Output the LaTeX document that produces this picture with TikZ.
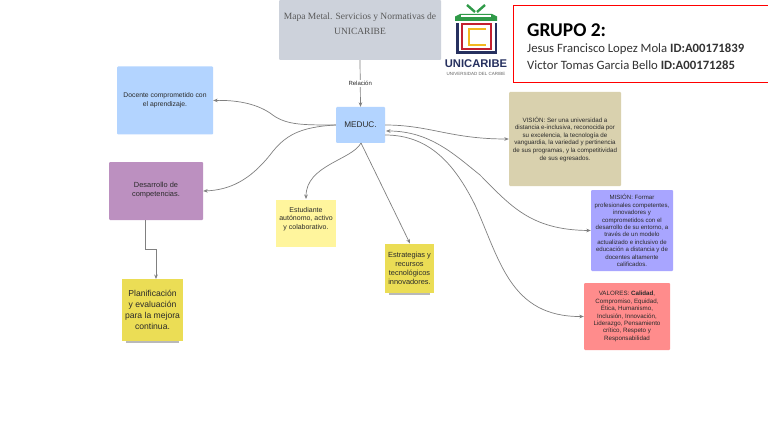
\documentclass[tikz,border=0pt]{standalone}
\usepackage{fontspec}
\setmainfont{Liberation Sans}
\newfontfamily\serifttl{Liberation Serif}
\newfontfamily\carl{Carlito}
\usetikzlibrary{arrows.meta}
\definecolor{cblue}{HTML}{B3D4FF}
\definecolor{ctitle}{HTML}{CDD2DB}
\definecolor{cpurple}{HTML}{BC90C0}
\definecolor{cpaleY}{HTML}{FFF59D}
\definecolor{cmust}{HTML}{EBDD55}
\definecolor{ctan}{HTML}{D9D1AE}
\definecolor{cviolet}{HTML}{A8A5FF}
\definecolor{cred}{HTML}{FF8C8C}
\definecolor{cnavy}{HTML}{26305F}
\definecolor{clogor}{HTML}{C3202F}
\definecolor{clogog}{HTML}{2F9A48}
\definecolor{clogoy}{HTML}{F2B81F}
\definecolor{ctxt}{HTML}{2A2A2A}
\tikzset{
  cbox/.style={rounded corners=1pt,inner sep=0pt,align=center,text=ctxt},
  note/.style={cbox,rounded corners=0pt},
  noteshadow/.style={fill=gray!55},
  link/.style={draw=black!50,line width=.7pt,-{Stealth[length=4.5pt,width=3.6pt]}},
  biglink/.style={link,{Stealth[length=4.5pt,width=3.6pt]}-{Stealth[length=4.5pt,width=3.6pt]}},
}
\begin{document}
\begin{tikzpicture}[x=1pt,y=-1pt]
\useasboundingbox (0,0) rectangle (768,433);
\fill[white] (0,0) rectangle (768,433);
\node[cbox,fill=ctitle,minimum width=162pt,minimum height=60pt,font=\serifttl\fontsize{9.5}{14.3}\selectfont,text=black!65] (title) at (360,30) {Mapa Metal. Servicios y Normativas de\\UNICARIBE\\[-2pt]\mbox{}};
\node[cbox,fill=cblue,minimum width=49pt,minimum height=36pt,font=\fontsize{8.2}{9}\selectfont] (meduc) at (360.5,125) {MEDUC.};
\node[cbox,fill=cblue,minimum width=96pt,minimum height=68pt,font=\fontsize{6.8}{8.7}\selectfont] (docente) at (165,100.5) {Docente comprometido con\\el aprendizaje.};
\node[cbox,fill=cpurple,minimum width=94pt,minimum height=58pt,font=\fontsize{7.4}{9}\selectfont] (desarrollo) at (156,191) {Desarrollo de\\competencias.\\[-5pt]\mbox{}};
\node[note,fill=cmust,minimum width=61pt,minimum height=62pt,font=\fontsize{8.6}{10.9}\selectfont] (planif) at (152.5,310) {Planificación\\y evaluación\\para la mejora\\continua.};
\fill[noteshadow] ([shift={(4,0)}]planif.south west) rectangle ([shift={(-4,2.2)}]planif.south east);
\node[cbox,rounded corners=0pt,fill=cpaleY,minimum width=60pt,minimum height=47pt,font=\fontsize{7}{8.5}\selectfont] (estud) at (306,223.5) {Estudiante\\autónomo, activo\\y colaborativo.\\[2.5pt]\mbox{}};
\node[note,fill=cmust,minimum width=49pt,minimum height=49pt,font=\fontsize{7.4}{9.1}\selectfont] (estrat) at (409.5,268.5) {Estrategias y\\recursos\\tecnológicos\\innovadores.};
\fill[noteshadow] ([shift={(4,0)}]estrat.south west) rectangle ([shift={(-4,2.2)}]estrat.south east);
\node[cbox,fill=ctan,minimum width=112pt,minimum height=94pt,font=\fontsize{6.2}{7.6}\selectfont] (vision) at (565,139) {VISIÓN: Ser una universidad a\\distancia e-inclusiva,  reconocida por\\su excelencia, la tecnología de\\vanguardia, la variedad y pertinencia\\de sus  programas, y la competitividad\\de sus egresados.};
\node[cbox,fill=cviolet,minimum width=82pt,minimum height=81pt,font=\fontsize{6.1}{7.4}\selectfont] (mision) at (632,230.5) {MISIÓN: Formar\\profesionales competentes,\\innovadores  y\\comprometidos con el\\desarrollo de su entorno,  a\\través de un modelo\\actualizado e inclusivo de\\educación a distancia y de\\docentes altamente\\calificados.};
\node[cbox,fill=cred,minimum width=86pt,minimum height=67pt,font=\fontsize{6.2}{7.4}\selectfont] (valores) at (627,316.5) {VALORES:  \textbf{Calidad},\\Compromiso, Equidad,\\Ética, Humanismo,\\Inclusión, Innovación,\\Liderazgo, Pensamiento\\crítico, Respeto y\\Responsabilidad};
\draw[link] (title.south) -- node[fill=white,inner sep=1pt,font=\fontsize{6}{7}\selectfont,text=ctxt] (rel) {Relación} (meduc.north);
\draw[link] (meduc.west) .. controls (300,125) and (285,125) .. (270,113) .. controls (255,103) and (235,100) .. (docente.east);
\draw[link] (meduc.west) .. controls (300,127) and (285,135) .. (270,155) .. controls (250,180) and (230,190) .. (desarrollo.east);
\coordinate (dstart) at (145,220);
\coordinate (pend) at (156,279);
\draw[link] (dstart) -- (145,249.5) -- (156,249.5) -- (pend);
\coordinate (ms) at (361,143);
\coordinate (ee) at (306,199);
\draw[link] (ms) .. controls (352,160) and (306,165) .. (ee);
\coordinate (ex) at (410,243.5);
\draw[link] (ms) -- (ex);
\coordinate (mr1) at (385,125);
\coordinate (mr2) at (386,131);
\coordinate (mr3) at (385,135);
\draw[link] (mr1) .. controls (430,125) and (450,139) .. (vision.west);
\draw[biglink] (mr2) .. controls (430,131) and (455,155) .. (480,175) .. controls (510,205) and (530,230) .. (mision.west);
\draw[link] (mr3) .. controls (430,135) and (455,165) .. (475,205) .. controls (500,260) and (510,317) .. (valores.west);
% group box
\node[draw=red,line width=.9pt,fill=white,minimum width=262pt,minimum height=77pt,inner sep=0pt] (grp) at (644,43.5) {};
\node[anchor=west,inner sep=0pt,font=\carl\bfseries\fontsize{19.5}{22}\selectfont,text=black] (g1) at (527,30) {GRUPO 2:};
\node[anchor=west,inner sep=0pt,font=\carl\fontsize{12.7}{15}\selectfont,text=black!80] (g2) at (527,49.5) {Jesus Francisco Lopez Mola \textbf{ID:A00171839}};
\node[anchor=west,inner sep=0pt,font=\carl\fontsize{12.7}{15}\selectfont,text=black!80] (g3) at (527,65) {Victor Tomas Garcia Bello \textbf{ID:A00171285}};
% logo
\draw[clogog,line width=2.4pt] (467,5) -- (475,12) (485,5) -- (477,12);
\fill[clogog] (460,14) -- (492,14) -- (497,16.5) -- (497,21) -- (455,21) -- (455,16.5) -- cycle;
\fill[white] (461,15.4) rectangle (491,17.2);
\draw[cnavy,line width=2.6pt] (457.5,23) -- (457.5,52.5) -- (496,52.5) -- (496,23);
\draw[clogor,line width=2.4pt] (462,24) -- (462,49) -- (491,49) -- (491,24) -- cycle;
\draw[clogoy,line width=2.6pt] (486,29) -- (469,29) -- (469,45) -- (486,45);
\node[inner sep=0pt,font=\bfseries\fontsize{11.2}{12}\selectfont,text=cnavy] (lg1) at (476,63.5) {UNICARIBE};
\node[inner sep=0pt,font=\fontsize{4.5}{5}\selectfont,text=black!60] (lg2) at (476,73.5) {UNIVERSIDAD DEL CARIBE};
\end{tikzpicture}
\end{document}
